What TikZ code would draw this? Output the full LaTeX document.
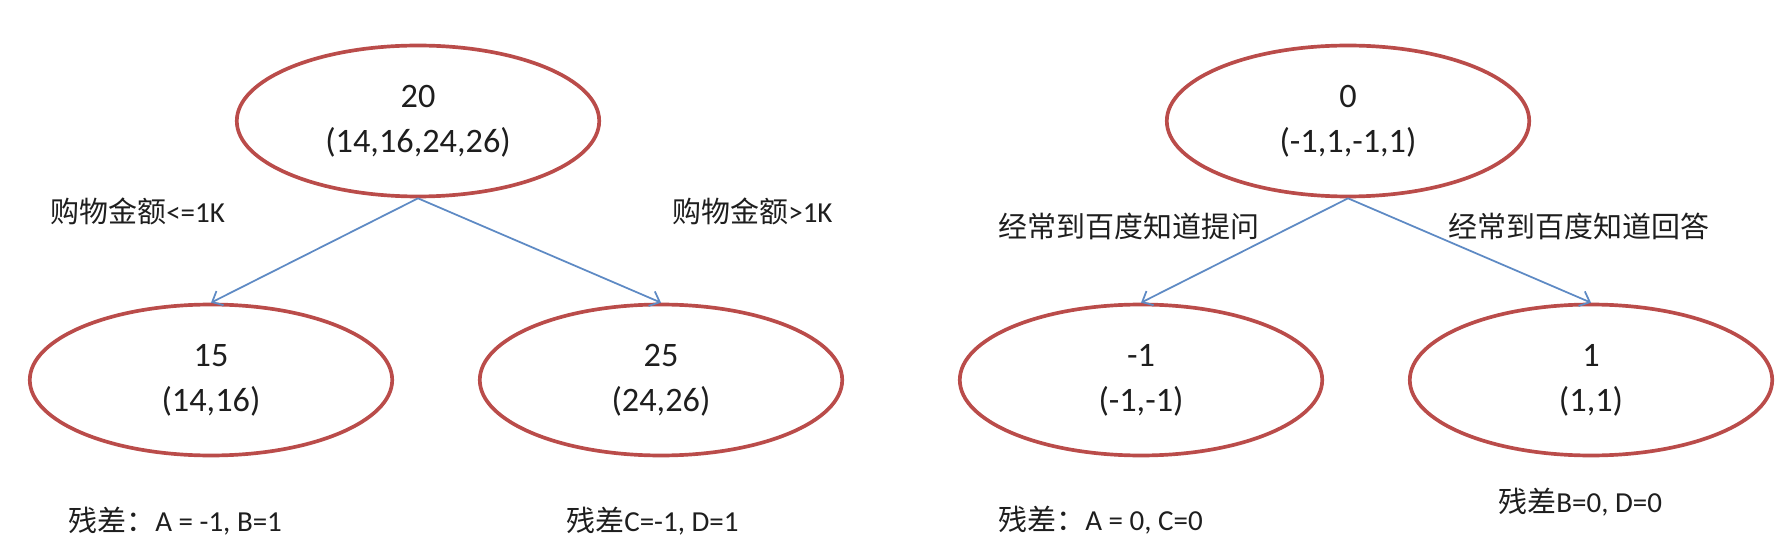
\documentclass[tikz,border=0pt]{standalone}
\usepackage{fontspec}
\setmainfont{Carlito}
\newfontfamily\cjk{Noto Sans CJK SC}
\usepackage{tikz}
\usetikzlibrary{shapes.geometric}
\usetikzlibrary{arrows.meta}
\usepackage{xcolor}
\definecolor{ColA}{RGB}{186,76,74}
\definecolor{ColB}{RGB}{94,138,196}
\definecolor{ColT}{RGB}{30,30,30}
\tikzstyle{NodeTree}=[ellipse,draw=ColA,line width=2.1pt,minimum width=7.25cm,minimum height=3.02cm,
inner sep=0pt,align=center,text=ColT,font=\fontsize{19.5}{25.5}\selectfont]
\tikzstyle{EdgeTree}=[ColB,line width=1pt,-{Straight Barb[length=5pt,width=9pt]}]
\tikzstyle{LabelTree}=[anchor=west,inner sep=0pt,text=ColT,font=\fontsize{16.5}{20}\selectfont]

\begin{document}
\begin{tikzpicture}[x=0.02cm,y=-0.02cm]
        \useasboundingbox(0,0)rectangle(1780,560);
        % left tree
        \node[NodeTree](r1)at(418,121){20\\(14,16,24,26)};
        \node[NodeTree](a1)at(211,380){15\\(14,16)};
        \node[NodeTree](b1)at(661,380){25\\(24,26)};
        \draw[EdgeTree](r1.south)--(a1.north);
        \draw[EdgeTree](r1.south)--(b1.north);
        \node[LabelTree](l1)at(50,211){{\cjk 购物金额}<=1K};
        \node[LabelTree](l2)at(672,211){{\cjk 购物金额}>1K};
        \node[LabelTree](s1)at(68,521){{\cjk 残差：}A = -1, B=1};
        \node[LabelTree](s2)at(566,521){{\cjk 残差}C=-1, D=1};
        % right tree
        \node[NodeTree](r2)at(1348,121){0\\(-1,1,-1,1)};
        \node[NodeTree](a2)at(1141,380){-1\\(-1,-1)};
        \node[NodeTree](b2)at(1591,380){1\\(1,1)};
        \draw[EdgeTree](r2.south)--(a2.north);
        \draw[EdgeTree](r2.south)--(b2.north);
        \node[LabelTree](l3)at(998,226){\cjk 经常到百度知道提问};
        \node[LabelTree](l4)at(1448,226){\cjk 经常到百度知道回答};
        \node[LabelTree](s3)at(998,520){{\cjk 残差：}A = 0, C=0};
        \node[LabelTree](s4)at(1498,502){{\cjk 残差}B=0, D=0};
    \end{tikzpicture}
\end{document}
